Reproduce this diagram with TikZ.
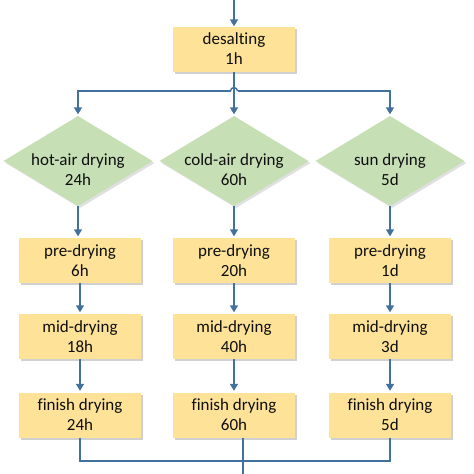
\documentclass[tikz,border=0pt]{standalone}
\usepackage{fontspec}
\setmainfont{Carlito}[Ligatures=NoCommon]
\usetikzlibrary{shapes.geometric,arrows.meta,shadows}
\definecolor{boxfill}{RGB}{253,226,152}
\definecolor{diafill}{RGB}{198,223,181}
\definecolor{linec}{RGB}{66,113,158}
\definecolor{txtc}{RGB}{15,15,15}
\begin{document}
\begin{tikzpicture}[x=1pt,y=-1pt,
  stepbox/.style={rectangle,fill=boxfill,draw=none,minimum width=122pt,minimum height=45pt,inner sep=0pt,
    align=center,text=txtc,font=\fontsize{17}{20}\selectfont,
    drop shadow={shadow xshift=2pt,shadow yshift=-2pt,opacity=0.3,fill=black!60}},
  dia/.style={diamond,fill=diafill,draw=none,minimum width=149pt,minimum height=90pt,inner sep=0pt,
    drop shadow={shadow xshift=2pt,shadow yshift=-2pt,opacity=0.2,fill=black!60}},
  diatxt/.style={align=center,text=txtc,font=\fontsize{17}{20}\selectfont,inner sep=0pt},
  line/.style={draw=linec,line width=1.4pt},
  arr/.style={line,-{Triangle[width=8pt,length=7pt]},shorten >=1.5pt}]
\useasboundingbox (0,0) rectangle (474,474);
\fill[white] (0,0) rectangle (474,474);

\coordinate (in) at (234,0);
\node[stepbox] (des) at (234,49) {desalting\\1h};

\node[dia] (d1) at (78,161) {};
\node[dia] (d2) at (234,161) {};
\node[dia] (d3) at (390,161) {};
\node[diatxt] (d1t) at (78,170) {hot-air drying\\24h};
\node[diatxt] (d2t) at (234,170) {cold-air drying\\60h};
\node[diatxt] (d3t) at (390,170) {sun drying\\5d};

\node[stepbox] (p1) at (80,260.5) {pre-drying\\6h};
\node[stepbox] (p2) at (234,260.5) {pre-drying\\20h};
\node[stepbox] (p3) at (390,260.5) {pre-drying\\1d};
\node[stepbox] (m1) at (80,336.5) {mid-drying\\18h};
\node[stepbox] (m2) at (234,336.5) {mid-drying\\40h};
\node[stepbox] (m3) at (390,336.5) {mid-drying\\3d};
\node[stepbox] (f1) at (80,415) {finish drying\\24h};
\node[stepbox] (f2) at (234,415) {finish drying\\60h};
\node[stepbox] (f3) at (390,415) {finish drying\\5d};

\coordinate (hjL) at (230.5,91);
\coordinate (hjR) at (237.5,91);
\coordinate (bm) at (243,461);
\coordinate (out) at (243,474);

\draw[arr,shorten >=0pt] (in) -- (des.north);
\draw[arr] (des.south) -- (d2.north);
\draw[arr] (hjL) -| (d1.north);
\draw[arr] (hjR) -| (d3.north);
\draw[line] (hjL) .. controls +(0,-4.5) and +(0,-4.5) .. (hjR);

\draw[arr] (d1.south) -- (d1.south |- p1.north);
\draw[arr] (d2.south) -- (p2.north);
\draw[arr] (d3.south) -- (p3.north);
\draw[arr] (p1.south) -- (m1.north);
\draw[arr] (p2.south) -- (m2.north);
\draw[arr] (p3.south) -- (m3.north);
\draw[arr] (m1.south) -- (f1.north);
\draw[arr] (m2.south) -- (f2.north);
\draw[arr] (m3.south) -- (f3.north);

\draw[line] (f1.south) |- (bm) -| (f3.south);
\draw[line] (f2.south -| bm) -- (out);
\end{tikzpicture}
\end{document}
